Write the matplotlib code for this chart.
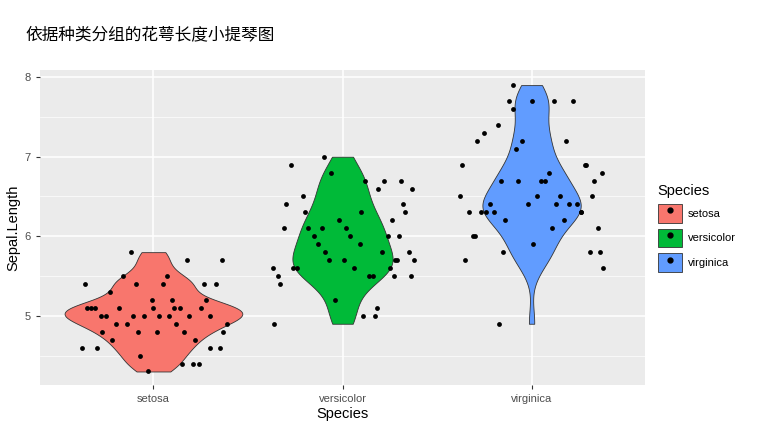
import numpy as np
import matplotlib.pyplot as plt
from matplotlib.lines import Line2D
from matplotlib.patches import Patch

plt.rcParams['font.family'] = ['Liberation Sans', 'Noto Sans CJK SC', 'DejaVu Sans']

species = ["setosa", "versicolor", "virginica"]
colors = ["#F8766D", "#00BA38", "#619CFF"]

setosa = [5.1, 4.9, 4.7, 4.6, 5.0, 5.4, 4.6, 5.0, 4.4, 4.9, 5.4, 4.8, 4.8, 4.3, 5.8, 5.7, 5.4,
          5.1, 5.7, 5.1, 5.4, 5.1, 4.6, 5.1, 4.8, 5.0, 5.0, 5.2, 5.2, 4.7, 4.8, 5.4, 5.2, 5.5,
          4.9, 5.0, 5.5, 4.9, 4.4, 5.1, 5.0, 4.5, 4.4, 5.0, 5.1, 4.8, 5.1, 4.6, 5.3, 5.0]
versicolor = [7.0, 6.4, 6.9, 5.5, 6.5, 5.7, 6.3, 4.9, 6.6, 5.2, 5.0, 5.9, 6.0, 6.1, 5.6, 6.7, 5.6,
              5.8, 6.2, 5.6, 5.9, 6.1, 6.3, 6.1, 6.4, 6.6, 6.8, 6.7, 6.0, 5.7, 5.5, 5.5, 5.8, 6.0,
              5.4, 6.0, 6.7, 6.3, 5.6, 5.5, 5.5, 6.1, 5.8, 5.0, 5.6, 5.7, 5.7, 6.2, 5.1, 5.7]
virginica = [6.3, 5.8, 7.1, 6.3, 6.5, 7.6, 4.9, 7.3, 6.7, 7.2, 6.5, 6.4, 6.8, 5.7, 5.8, 6.4, 6.5,
             7.7, 7.7, 6.0, 6.9, 5.6, 7.7, 6.3, 6.7, 7.2, 6.2, 6.1, 6.4, 7.2, 7.4, 7.9, 6.4, 6.3,
             6.1, 7.7, 6.3, 6.4, 6.0, 6.9, 6.7, 6.9, 5.8, 6.8, 6.7, 6.7, 6.3, 6.5, 6.2, 5.9]

# jitter offsets
jit_setosa = [-0.31, 0.12, -0.22, 0.35, -0.05, 0.27, -0.38, 0.08, 0.21, -0.14, 0.33, -0.27, 0.02,
              -0.03, -0.12, 0.18, -0.09, 0.25, 0.36, -0.33, 0.05, -0.18, -0.3, 0.14, -0.08, 0.3,
              -0.25, 0.1, -0.01, 0.22, 0.16, -0.36, 0.28, -0.16, 0.39, -0.11, 0.07, -0.2, 0.24,
              0.0, -0.28, -0.07, 0.15, 0.03, -0.35, 0.37, 0.11, 0.3, -0.23, 0.19]
jit_versicolor = [-0.1, 0.32, -0.27, 0.14, -0.21, 0.28, 0.1, -0.36, 0.37, -0.04, 0.17, -0.13, 0.3,
                  -0.31, 0.06, 0.22, -0.24, 0.35, -0.02, 0.25, 0.09, -0.18, 0.33, 0.02, -0.3,
                  0.19, -0.06, 0.12, -0.15, 0.38, -0.34, 0.27, -0.09, 0.04, -0.33, 0.24, 0.31,
                  -0.2, -0.26, 0.16, 0.36, -0.11, 0.21, 0.11, -0.37, 0.01, 0.29, 0.26, 0.18, -0.07]
jit_virginica = [-0.2, 0.36, -0.08, 0.26, 0.15, -0.1, -0.17, -0.25, 0.33, -0.05, -0.38, 0.2, 0.09,
                 -0.35, 0.31, -0.22, 0.03, 0.0, -0.12, -0.3, 0.28, 0.38, 0.12, -0.27, 0.07, 0.18,
                 -0.14, 0.35, -0.02, -0.29, -0.18, -0.1, 0.24, -0.33, 0.11, 0.22, -0.24, 0.13,
                 -0.31, -0.37, -0.16, 0.29, -0.15, 0.37, -0.07, 0.05, 0.26, 0.32, 0.17, 0.01]

data = [setosa, versicolor, virginica]
jitters = [jit_setosa, jit_versicolor, jit_virginica]
widths = [0.94, 0.53, 0.52]


def nrd0(kde):
    x = kde.dataset.ravel()
    sd = x.std(ddof=1)
    q = np.percentile(x, [25, 75])
    lo = min(sd, (q[1] - q[0]) / 1.34)
    return 0.9 * lo * len(x) ** -0.2 / sd


fig = plt.figure(figsize=(7.65, 4.3), dpi=100)
ax = fig.add_axes([40 / 765, 45 / 430, 605 / 765, 315 / 430])
ax.set_facecolor("#EBEBEB")
ax.set_axisbelow(True)
ax.set_yticks([5, 6, 7, 8])
ax.set_yticks([4.5, 5.5, 6.5, 7.5], minor=True)
ax.grid(True, which="major", color="white", lw=1.1)
ax.grid(True, which="minor", color="white", lw=0.5)
ax.tick_params(which="minor", length=0)

parts = ax.violinplot(data, positions=[1, 2, 3], widths=widths, bw_method=nrd0,
                      showextrema=False, points=300)
for body, c in zip(parts["bodies"], colors):
    body.set_facecolor(c)
    body.set_edgecolor("#333333")
    body.set_linewidth(0.6)
    body.set_alpha(1)
    body.set_zorder(2)

for i, (vals, jit) in enumerate(zip(data, jitters)):
    ax.scatter(np.array(jit) + i + 1, vals, s=12, color="black", zorder=3, lw=0)

ax.set_xlim(0.4, 3.6)
ax.set_ylim(4.13, 8.09)
ax.set_xticks([1, 2, 3])
ax.set_xticklabels(species)
ax.tick_params(colors="#4D4D4D", labelsize=8, length=3)
ax.tick_params(axis="both", color="#333333")
for s in ax.spines.values():
    s.set_visible(False)
ax.set_xlabel("Species", fontsize=10.5, labelpad=2)
ax.set_ylabel("Sepal.Length", fontsize=10.5, labelpad=3)

fig.text(25 / 765, 1 - 35 / 430, "依据种类分组的花萼长度小提琴图", fontsize=12, va="center",
         family=["Noto Sans CJK SC", "DejaVu Sans"])

handles = [(Patch(facecolor=c, edgecolor="#333333", lw=0.6),
            Line2D([], [], marker="o", color="black", ls="", markersize=3.5)) for c in colors]
leg = fig.legend(handles, species, title="Species", loc="upper left",
                 bbox_to_anchor=(650 / 765, 1 - 176 / 430), frameon=False, fontsize=8,
                 title_fontsize=10.5, handlelength=2.2, handleheight=2.2, labelspacing=0.55,
                 handletextpad=0.5, borderaxespad=0.3)
leg._legend_box.align = "left"

fig.savefig("out.png", dpi=100)
